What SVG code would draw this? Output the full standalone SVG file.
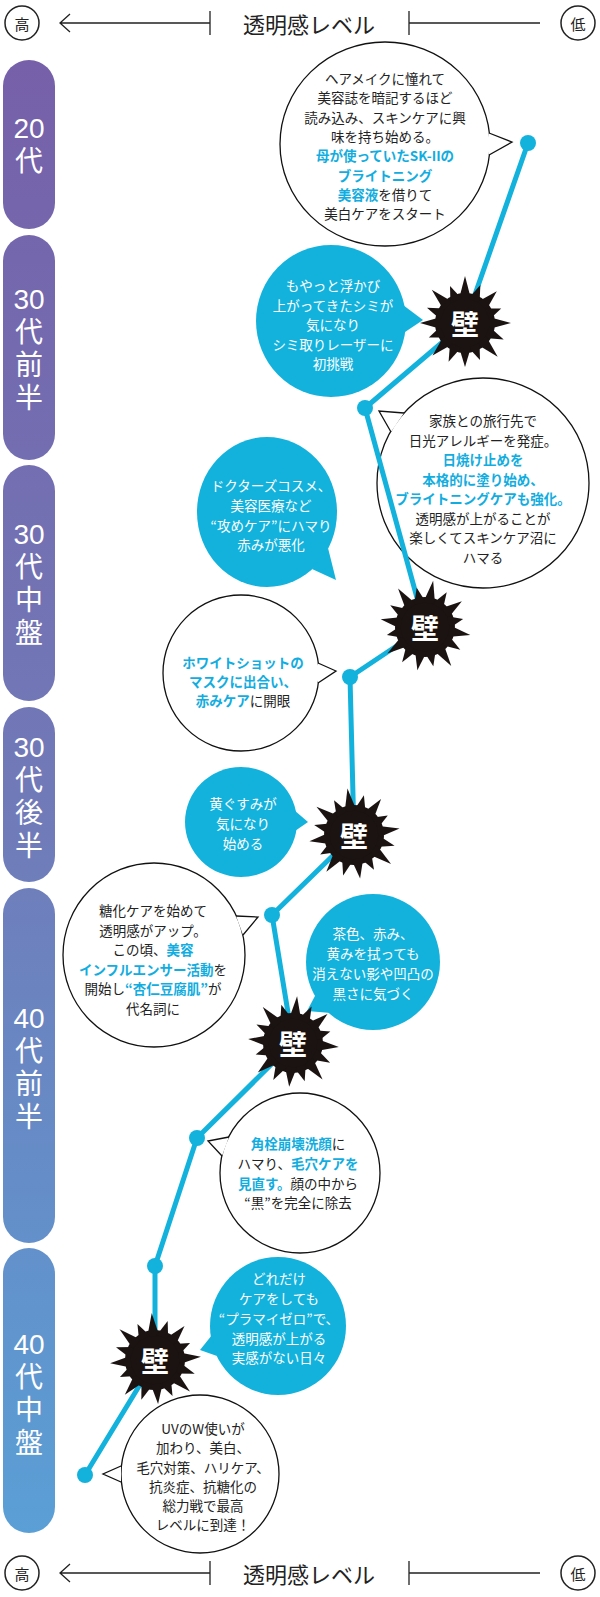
<svg xmlns="http://www.w3.org/2000/svg" xmlns:xlink="http://www.w3.org/1999/xlink" width="600" height="1597" viewBox="0 0 600 1597">
<style>
text{font-family:"Noto Sans CJK JP","Noto Sans",sans-serif;}
.hd{font-size:22px;fill:#222;text-anchor:middle;dominant-baseline:central;}
.hc{font-size:15px;fill:#222;text-anchor:middle;dominant-baseline:central;}
.axis{stroke:#222;stroke-width:1.3;fill:none;}
.age{font-family:"Liberation Sans","Noto Sans CJK JP",sans-serif;font-size:28px;fill:#fff;text-anchor:middle;dominant-baseline:central;}
.pill{fill:url(#pg);}
.wb{fill:#fff;stroke:#111;stroke-width:1.3;}
.cb{fill:#12b2dd;}
.t{font-size:13.5px;fill:#222;text-anchor:middle;dominant-baseline:central;}
.tw{font-size:13.5px;fill:#fff;text-anchor:middle;dominant-baseline:central;}
.b{fill:#12ade0;font-weight:bold;}
.line{fill:none;stroke:#12b2dd;stroke-width:5;stroke-linejoin:round;stroke-linecap:round;}
.dot{fill:#12b2dd;}
.wall{font-size:28px;font-weight:bold;fill:#fff;text-anchor:middle;dominant-baseline:central;}
</style>
<defs>
<linearGradient id="pg" gradientUnits="userSpaceOnUse" x1="0" y1="60" x2="0" y2="1533">
<stop offset="0" stop-color="#7660a9"/>
<stop offset="0.5" stop-color="#717ab8"/>
<stop offset="1" stop-color="#5a9fd6"/>
</linearGradient>
<g id="burst" fill="#1a1311">
<circle r="30"/>
<path d="M-6,-24 L0,-47 L6,-24Z"/>
<path d="M-6,-24 L0,-41 L6,-24Z" transform="rotate(22)"/>
<path d="M-6,-24 L0,-45 L6,-24Z" transform="rotate(45)"/>
<path d="M-6,-24 L0,-39 L6,-24Z" transform="rotate(68)"/>
<path d="M-6,-24 L0,-46 L6,-24Z" transform="rotate(90)"/>
<path d="M-6,-24 L0,-42 L6,-24Z" transform="rotate(113)"/>
<path d="M-6,-24 L0,-47 L6,-24Z" transform="rotate(136)"/>
<path d="M-6,-24 L0,-40 L6,-24Z" transform="rotate(158)"/>
<path d="M-6,-24 L0,-44 L6,-24Z" transform="rotate(180)"/>
<path d="M-6,-24 L0,-42 L6,-24Z" transform="rotate(203)"/>
<path d="M-6,-24 L0,-46 L6,-24Z" transform="rotate(225)"/>
<path d="M-6,-24 L0,-39 L6,-24Z" transform="rotate(248)"/>
<path d="M-6,-24 L0,-45 L6,-24Z" transform="rotate(270)"/>
<path d="M-6,-24 L0,-41 L6,-24Z" transform="rotate(292)"/>
<path d="M-6,-24 L0,-47 L6,-24Z" transform="rotate(315)"/>
<path d="M-6,-24 L0,-40 L6,-24Z" transform="rotate(338)"/>
</g>
</defs>

<g id="header-top">
<circle cx="22" cy="23" r="17" fill="#fff" stroke="#222" stroke-width="1.5"/>
<text class="hc" x="22" y="23">高</text>
<path class="axis" d="M60,23 H210 M70,14 L60,23 L70,32 M210,11 V35"/>
<text class="hd" x="309" y="23">透明感レベル</text>
<path class="axis" d="M409,11 V35 M409,23 H540"/>
<circle cx="578" cy="23" r="17" fill="#fff" stroke="#222" stroke-width="1.5"/>
<text class="hc" x="578" y="23">低</text>
</g>

<g id="age-20">
<rect class="pill" x="3" y="60" width="52" height="169" rx="26"/>
<text class="age"><tspan x="29" y="128">20</tspan><tspan x="29" y="161">代</tspan></text>
</g>
<g id="age-30early">
<rect class="pill" x="3" y="235" width="52" height="225" rx="26"/>
<text class="age"><tspan x="29" y="299">30</tspan><tspan x="29" y="332">代</tspan><tspan x="29" y="365">前</tspan><tspan x="29" y="398">半</tspan></text>
</g>
<g id="age-30mid">
<rect class="pill" x="3" y="465" width="52" height="236" rx="26"/>
<text class="age"><tspan x="29" y="534">30</tspan><tspan x="29" y="567">代</tspan><tspan x="29" y="600">中</tspan><tspan x="29" y="633">盤</tspan></text>
</g>
<g id="age-30late">
<rect class="pill" x="3" y="707" width="52" height="175" rx="26"/>
<text class="age"><tspan x="29" y="747">30</tspan><tspan x="29" y="780">代</tspan><tspan x="29" y="813">後</tspan><tspan x="29" y="846">半</tspan></text>
</g>
<g id="age-40early">
<rect class="pill" x="3" y="888" width="52" height="355" rx="26"/>
<text class="age"><tspan x="29" y="1018">40</tspan><tspan x="29" y="1051">代</tspan><tspan x="29" y="1084">前</tspan><tspan x="29" y="1117">半</tspan></text>
</g>
<g id="age-40mid">
<rect class="pill" x="3" y="1248" width="52" height="285" rx="26"/>
<text class="age"><tspan x="29" y="1344">40</tspan><tspan x="29" y="1377">代</tspan><tspan x="29" y="1410">中</tspan><tspan x="29" y="1443">盤</tspan></text>
</g>

<g id="bubble1">
<ellipse class="wb" cx="385" cy="144" rx="105" ry="102"/>
<path class="wb" d="M489,133 L512,142 L489,155"/>
<text class="t" x="385" y="78">ヘアメイクに憧れて</text>
<text class="t" x="385" y="97.3">美容誌を暗記するほど</text>
<text class="t" x="385" y="116.6">読み込み、スキンケアに興</text>
<text class="t" x="385" y="135.9">味を持ち始める。</text>
<text class="t" x="385" y="155.2"><tspan class="b">母が使っていたSK-IIの</tspan></text>
<text class="t" x="385" y="174.5"><tspan class="b">ブライトニング</tspan></text>
<text class="t" x="385" y="193.8"><tspan class="b">美容液</tspan>を借りて</text>
<text class="t" x="385" y="213.1">美白ケアをスタート</text>
</g>

<g id="bubble2">
<ellipse class="cb" cx="331" cy="321" rx="75" ry="76"/>
<path class="cb" d="M403,305 L423,320 L402,334 Z"/>
<text class="tw" x="333" y="285">もやっと浮かび</text>
<text class="tw" x="333" y="304.5">上がってきたシミが</text>
<text class="tw" x="333" y="324">気になり</text>
<text class="tw" x="333" y="343.5">シミ取りレーザーに</text>
<text class="tw" x="333" y="363">初挑戦</text>
</g>

<g id="bubble3">
<ellipse class="wb" cx="483" cy="483" rx="106" ry="105"/>
<path class="wb" d="M404,413 L379,411 L391,432"/>
<text class="t" x="483" y="420">家族との旅行先で</text>
<text class="t" x="483" y="439.5">日光アレルギーを発症。</text>
<text class="t" x="483" y="459"><tspan class="b">日焼け止めを</tspan></text>
<text class="t" x="483" y="478.5"><tspan class="b">本格的に塗り始め、</tspan></text>
<text class="t" x="483" y="498"><tspan class="b">ブライトニングケアも強化。</tspan></text>
<text class="t" x="483" y="517.5">透明感が上がることが</text>
<text class="t" x="483" y="537">楽しくてスキンケア沼に</text>
<text class="t" x="483" y="556.5">ハマる</text>
</g>

<g id="bubble4">
<ellipse class="cb" cx="267" cy="512" rx="70" ry="75"/>
<path class="cb" d="M328,548 L336,580 L312,569 Z"/>
<text class="tw" x="271" y="485">ドクターズコスメ、</text>
<text class="tw" x="271" y="505">美容医療など</text>
<text class="tw" x="271" y="525">“攻めケア”にハマり</text>
<text class="tw" x="271" y="544">赤みが悪化</text>
</g>

<g id="bubble5">
<ellipse class="wb" cx="241" cy="673" rx="78" ry="78"/>
<path class="wb" d="M318,663 L336,671 L318,683"/>
<text class="t" x="243" y="662"><tspan class="b">ホワイトショットの</tspan></text>
<text class="t" x="243" y="681"><tspan class="b">マスクに出合い、</tspan></text>
<text class="t" x="243" y="700"><tspan class="b">赤みケア</tspan>に開眼</text>
</g>

<g id="bubble6">
<ellipse class="cb" cx="241" cy="822" rx="56" ry="55"/>
<path class="cb" d="M294,810 L308,822 L295,831 Z"/>
<text class="tw" x="243" y="803">黄ぐすみが</text>
<text class="tw" x="243" y="823">気になり</text>
<text class="tw" x="243" y="843">始める</text>
</g>

<g id="bubble7">
<ellipse class="wb" cx="154" cy="955" rx="91" ry="92"/>
<path class="wb" d="M236,916 L258,917 L243,935"/>
<text class="t" x="153" y="910">糖化ケアを始めて</text>
<text class="t" x="153" y="929.6">透明感がアップ。</text>
<text class="t" x="153" y="949.2">この頃、<tspan class="b">美容</tspan></text>
<text class="t" x="153" y="968.8"><tspan class="b">インフルエンサー活動</tspan>を</text>
<text class="t" x="153" y="988.4">開始し<tspan class="b">“杏仁豆腐肌”</tspan>が</text>
<text class="t" x="153" y="1008">代名詞に</text>
</g>

<g id="bubble8">
<ellipse class="cb" cx="373" cy="962" rx="67" ry="68"/>
<path class="cb" d="M316,994 L307,1011 L331,1013 Z"/>
<text class="tw" x="373" y="933">茶色、赤み、</text>
<text class="tw" x="373" y="953">黄みを拭っても</text>
<text class="tw" x="373" y="973">消えない影や凹凸の</text>
<text class="tw" x="373" y="993">黒さに気づく</text>
</g>

<g id="bubble9">
<ellipse class="wb" cx="300" cy="1173" rx="80" ry="80"/>
<path class="wb" d="M229,1137 L208,1141 L222,1156"/>
<text class="t" x="298" y="1143"><tspan class="b">角栓崩壊洗顔</tspan>に</text>
<text class="t" x="298" y="1163">ハマり、<tspan class="b">毛穴ケアを</tspan></text>
<text class="t" x="298" y="1182.5"><tspan class="b">見直す。</tspan>顔の中から</text>
<text class="t" x="298" y="1202">“黒”を完全に除去</text>
</g>

<g id="bubble10">
<ellipse class="cb" cx="278" cy="1326" rx="68" ry="69"/>
<path class="cb" d="M212,1335 L200,1350 L217,1356 Z"/>
<text class="tw" x="279" y="1278">どれだけ</text>
<text class="tw" x="279" y="1298">ケアをしても</text>
<text class="tw" x="279" y="1318">“プラマイゼロ”で、</text>
<text class="tw" x="279" y="1337.5">透明感が上がる</text>
<text class="tw" x="279" y="1357">実感がない日々</text>
</g>

<g id="bubble11">
<ellipse class="wb" cx="200" cy="1474" rx="79" ry="79"/>
<path class="wb" d="M121,1466 L103,1474 L121,1482"/>
<text class="t" x="203" y="1428">UVのW使いが</text>
<text class="t" x="203" y="1447">加わり、美白、</text>
<text class="t" x="203" y="1466.5">毛穴対策、ハリケア、</text>
<text class="t" x="203" y="1486">抗炎症、抗糖化の</text>
<text class="t" x="203" y="1505">総力戦で最高</text>
<text class="t" x="203" y="1524">レベルに到達！</text>
</g>

<g id="connectors">
<polyline class="line" points="528,143 465,323 365,408 425,627 350,677 354,835 272,915 293,1043 197,1138 155,1266 155,1360 85,1475"/>
</g>

<g id="wall1" transform="translate(465,323)"><use xlink:href="#burst" href="#burst"/><text class="wall" x="0" y="0">壁</text></g>
<g id="wall2" transform="translate(425,627)"><use xlink:href="#burst" href="#burst" transform="rotate(10)"/><text class="wall" x="0" y="0">壁</text></g>
<g id="wall3" transform="translate(354,835)"><use xlink:href="#burst" href="#burst" transform="rotate(-8)"/><text class="wall" x="0" y="0">壁</text></g>
<g id="wall4" transform="translate(293,1043)"><use xlink:href="#burst" href="#burst" transform="rotate(5)"/><text class="wall" x="0" y="0">壁</text></g>
<g id="wall5" transform="translate(155,1360)"><use xlink:href="#burst" href="#burst" transform="rotate(-4)"/><text class="wall" x="0" y="0">壁</text></g>

<g id="dots">
<circle class="dot" cx="528" cy="143" r="8"/>
<circle class="dot" cx="365" cy="408" r="8"/>
<circle class="dot" cx="350" cy="677" r="8"/>
<circle class="dot" cx="272" cy="915" r="8"/>
<circle class="dot" cx="197" cy="1138" r="8"/>
<circle class="dot" cx="155" cy="1266" r="8"/>
<circle class="dot" cx="85" cy="1475" r="8"/>
</g>

<g id="header-bottom">
<circle cx="22" cy="1573" r="17" fill="#fff" stroke="#222" stroke-width="1.5"/>
<text class="hc" x="22" y="1573">高</text>
<path class="axis" d="M60,1573 H210 M70,1564 L60,1573 L70,1582 M210,1561 V1585"/>
<text class="hd" x="309" y="1573">透明感レベル</text>
<path class="axis" d="M409,1561 V1585 M409,1573 H540"/>
<circle cx="578" cy="1573" r="17" fill="#fff" stroke="#222" stroke-width="1.5"/>
<text class="hc" x="578" y="1573">低</text>
</g>
</svg>
